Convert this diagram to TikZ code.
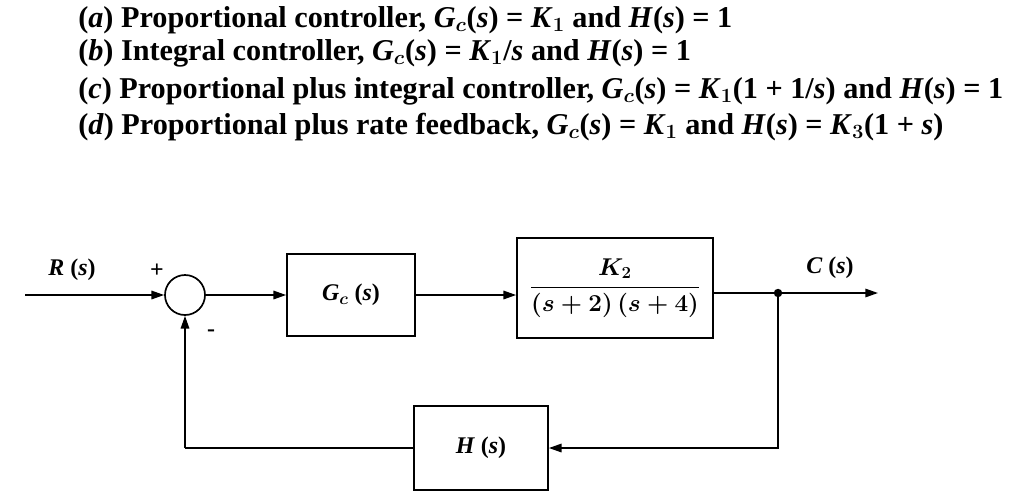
\documentclass[tikz,border=0pt]{standalone}
\usepackage{fontspec}
\setmainfont{Liberation Serif}
\usetikzlibrary{arrows.meta}
\begin{document}
\begin{tikzpicture}[x=0.025cm,y=-0.025cm,
  blk/.style={draw,line width=1.2pt,inner sep=0pt},
  sig/.style={line width=1.2pt,-{Triangle[length=9pt,width=6pt]}},
  ln/.style={line width=1.2pt},
  lab/.style={font=\fontsize{17}{20}\selectfont\bfseries\boldmath},
  txt/.style={anchor=west,inner sep=0pt,font=\fontsize{21.5}{24}\selectfont\bfseries\boldmath}]
\useasboundingbox (0,0) rectangle (1024,496);
\node[txt] (la) at (78,20) {(\textit{a}) Proportional controller, \textit{G$_c$}(\textit{s}) = \textit{K}$_1$ and \textit{H}(\textit{s}) = 1};
\node[txt] (lb) at (78,53) {(\textit{b}) Integral controller, \textit{G$_c$}(\textit{s}) = \textit{K}$_1$/\textit{s} and \textit{H}(\textit{s}) = 1};
\node[txt] (lc) at (78,91) {(\textit{c}) Proportional plus integral controller, \textit{G$_c$}(\textit{s}) = \textit{K}$_1$(1 + 1/\textit{s}) and \textit{H}(\textit{s}) = 1};
\node[txt] (ld) at (78,127) {(\textit{d}) Proportional plus rate feedback, \textit{G$_c$}(\textit{s}) = \textit{K}$_1$ and \textit{H}(\textit{s}) = \textit{K}$_3$(1 + \textit{s})};
\node[draw,circle,line width=1.2pt,inner sep=0pt,minimum size=1cm] (sum) at (185,295) {};
\node[blk,lab,minimum width=3.2cm,minimum height=2.05cm] (gc) at (351,295) {\textit{G$_c$} (\textit{s})};
\node[blk,lab,minimum width=4.9cm,minimum height=2.5cm] (pl) at (615,288) {$\displaystyle\frac{K_2}{(s+2)\,(s+4)}$};
\node[blk,lab,minimum width=3.35cm,minimum height=2.1cm] (h) at (481,448) {\textit{H} (\textit{s})};
\coordinate (in) at (25,295);
\coordinate (out) at (878,293);
\coordinate (br) at (778,293);
\coordinate (bl) at (185,448);
\node[lab] (r) at (72,270) {\textit{R} (\textit{s})};
\node[lab] (c) at (830,268) {\textit{C} (\textit{s})};
\node[lab] (p) at (157,271) {+};
\node[lab] (m) at (211,333) {-};
\draw[sig] (in) -- (sum);
\draw[sig] (sum) -- (gc);
\draw[sig] (gc) -- (pl.west|-gc);
\draw[sig] (pl.east|-out) -- (out);
\fill (br) circle (3pt);
\draw[sig] (br) |- (h);
\draw[ln] (h) -- (bl);
\draw[sig] (bl) -- (sum);
\end{tikzpicture}
\end{document}
